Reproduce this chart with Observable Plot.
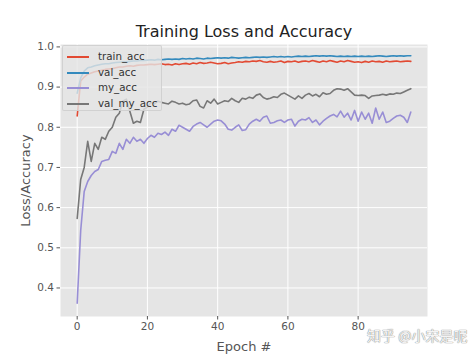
<!DOCTYPE html>
<html><head><meta charset="utf-8">
<script src="https://cdn.jsdelivr.net/npm/d3@7"></script>
<script src="https://cdn.jsdelivr.net/npm/@observablehq/plot@0.6"></script>
<style>
body{margin:0;background:#fff;}
#wrap{position:relative;width:474px;height:355px;font-family:"DejaVu Sans",sans-serif;}
#legend{position:absolute;left:62px;top:45px;width:100px;height:66px;background:rgba(229,229,229,0.8);border:1px solid rgba(204,204,204,0.8);border-radius:2px;box-sizing:border-box;}
.row{position:absolute;left:0;height:14px;width:100%;}
.row .sw{position:absolute;left:4px;top:6px;width:22px;height:2px;}
.row .lb{position:absolute;left:35px;top:-1px;font-size:10.3px;color:#333;line-height:14px;}
#wm{position:absolute;left:367px;top:325px;font-family:"Noto Sans CJK SC",sans-serif;font-size:14px;color:#f4f4f4;text-shadow:0 0 1px #888,0 0 1px #888;}
</style></head>
<body><div id="wrap"><div id="chart"></div><div id="legend"></div><div id="wm">知乎 @小宋是呢</div></div>
<script>
const title = "Training Loss and Accuracy";
const xLabel = "Epoch #";
const yLabel = "Loss/Accuracy";
const xTicks = [0, 20, 40, 60, 80];
const yTicks = [0.4, 0.5, 0.6, 0.7, 0.8, 0.9, 1.0];
const seriesNames = ["train_acc", "val_acc", "my_acc", "val_my_acc"];
const seriesColors = ["#E24A33", "#348ABD", "#988ED5", "#777777"];

const train_acc = [0.828,0.915,0.925,0.932,0.935,0.938,0.940,0.942,0.944,0.945,0.946,0.948,0.950,0.950,0.952,0.953,0.952,0.954,0.955,0.955,
0.956,0.957,0.956,0.957,0.958,0.956,0.957,0.955,0.958,0.956,0.958,0.959,0.957,0.960,0.958,0.961,0.959,0.960,0.962,0.960,
0.958,0.959,0.961,0.958,0.960,0.961,0.963,0.962,0.964,0.963,0.965,0.964,0.966,0.963,0.962,0.964,0.962,0.963,0.965,0.961,
0.964,0.963,0.965,0.962,0.964,0.965,0.963,0.966,0.964,0.962,0.965,0.963,0.966,0.964,0.962,0.965,0.963,0.966,0.964,0.962,
0.963,0.961,0.964,0.962,0.965,0.963,0.964,0.962,0.965,0.963,0.964,0.965,0.963,0.964,0.965,0.964];
const val_acc = [0.885,0.923,0.940,0.948,0.950,0.953,0.955,0.957,0.958,0.958,0.960,0.961,0.962,0.963,0.963,0.964,0.965,0.965,0.966,0.966,
0.967,0.968,0.967,0.969,0.968,0.969,0.970,0.969,0.970,0.969,0.971,0.970,0.971,0.970,0.972,0.971,0.970,0.972,0.971,0.972,
0.973,0.972,0.973,0.972,0.974,0.973,0.972,0.973,0.974,0.973,0.974,0.975,0.974,0.975,0.974,0.975,0.976,0.975,0.976,0.975,
0.976,0.975,0.976,0.977,0.976,0.977,0.976,0.977,0.978,0.977,0.978,0.977,0.978,0.977,0.976,0.977,0.976,0.977,0.976,0.977,
0.976,0.977,0.976,0.977,0.976,0.977,0.978,0.977,0.976,0.977,0.978,0.977,0.978,0.977,0.978,0.978];
const my_acc = [0.362,0.543,0.640,0.665,0.680,0.690,0.695,0.715,0.718,0.720,0.740,0.735,0.760,0.745,0.770,0.760,0.775,0.765,0.770,0.760,
0.772,0.780,0.775,0.785,0.782,0.788,0.780,0.795,0.790,0.805,0.800,0.795,0.790,0.802,0.808,0.812,0.806,0.800,0.808,0.815,
0.818,0.816,0.808,0.795,0.793,0.800,0.806,0.792,0.794,0.808,0.815,0.820,0.815,0.825,0.828,0.810,0.812,0.816,0.818,0.812,
0.818,0.820,0.803,0.815,0.820,0.818,0.824,0.812,0.818,0.806,0.815,0.822,0.828,0.832,0.826,0.840,0.825,0.835,0.818,0.842,
0.815,0.838,0.820,0.835,0.810,0.848,0.820,0.838,0.812,0.815,0.822,0.828,0.830,0.825,0.812,0.838];
const val_my_acc = [0.573,0.670,0.700,0.765,0.715,0.760,0.745,0.775,0.770,0.790,0.800,0.825,0.835,0.865,0.870,0.840,0.810,0.815,0.812,0.845,
0.850,0.862,0.858,0.865,0.862,0.860,0.858,0.865,0.862,0.858,0.860,0.856,0.858,0.866,0.868,0.852,0.848,0.866,0.860,0.870,
0.858,0.862,0.866,0.864,0.872,0.866,0.862,0.872,0.870,0.875,0.872,0.880,0.883,0.874,0.870,0.872,0.876,0.874,0.882,0.885,
0.880,0.875,0.870,0.878,0.872,0.880,0.884,0.878,0.882,0.876,0.886,0.882,0.884,0.892,0.896,0.895,0.892,0.896,0.888,0.880,
0.879,0.880,0.879,0.872,0.878,0.879,0.880,0.882,0.880,0.883,0.882,0.885,0.884,0.888,0.892,0.896];

const allSeries = [train_acc, val_acc, my_acc, val_my_acc];
const rows = [];
allSeries.forEach((arr, s) => arr.forEach((v, i) => rows.push({epoch: i, value: v, series: seriesNames[s]})));

const chart = Plot.plot({
  width: 474, height: 355,
  marginLeft: 60, marginRight: 47, marginTop: 44, marginBottom: 39,
  style: {fontFamily: "DejaVu Sans, sans-serif", background: "transparent"},
  x: {domain: [-4.75, 99.75]},
  y: {domain: [0.329, 1.006]},
  color: {domain: seriesNames, range: seriesColors},
  marks: [
    Plot.frame({fill: "#E5E5E5", stroke: null}),
    Plot.gridX(xTicks, {stroke: "#ffffff", strokeOpacity: 1, strokeWidth: 1}),
    Plot.gridY(yTicks, {stroke: "#ffffff", strokeOpacity: 1, strokeWidth: 1}),
    Plot.axisX(xTicks, {tickSize: 3.5, tickPadding: 3, fontSize: 10.5, color: "#555", stroke: "#555",
      label: xLabel, labelAnchor: "center", labelArrow: "none", labelOffset: 34}),
    Plot.axisY(yTicks, {tickSize: 3.5, tickPadding: 3, fontSize: 10.5, color: "#555", stroke: "#555", tickFormat: d3.format(".1f"),
      label: yLabel, labelAnchor: "center", labelArrow: "none", labelOffset: 40}),
    Plot.line(rows, {x: "epoch", y: "value", z: "series", stroke: "series", strokeWidth: 1.6}),
    Plot.text([title], {frameAnchor: "top", lineAnchor: "bottom", dy: -8, fontSize: 16, fill: "#222", text: d => d})
  ]
});
d3.select(chart).selectAll("[aria-label='x-axis label'], [aria-label='y-axis label']").attr("font-size", 13).attr("fill", "#555");
document.getElementById("chart").appendChild(chart);

const legend = document.getElementById("legend");
seriesNames.forEach((n, i) => {
  const r = document.createElement("div");
  r.className = "row";
  r.style.top = (4 + i * 15.6) + "px";
  r.innerHTML = `<div class="sw" style="background:${seriesColors[i]}"></div><div class="lb">${n}</div>`;
  legend.appendChild(r);
});
</script></body></html>
